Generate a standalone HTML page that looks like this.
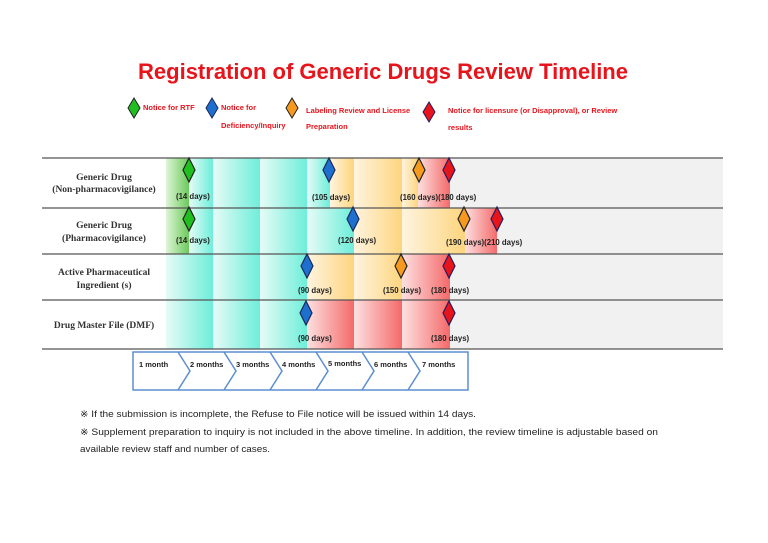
<!DOCTYPE html>
<html><head><meta charset="utf-8"><style>
body{margin:0;background:#fff;}
svg{display:block;font-family:"Liberation Sans",sans-serif;}
</style></head><body>
<svg width="768" height="543" viewBox="0 0 768 543" xmlns="http://www.w3.org/2000/svg">
<defs>
<linearGradient id="g" x1="0" x2="1"><stop offset="0" stop-color="#dff5d8"/><stop offset="1" stop-color="#6cc95a"/></linearGradient>
<linearGradient id="c" x1="0" x2="1"><stop offset="0" stop-color="#e6fbf6"/><stop offset="1" stop-color="#6eeeda"/></linearGradient>
<linearGradient id="o" x1="0" x2="1"><stop offset="0" stop-color="#fff4e0"/><stop offset="1" stop-color="#fdd57e"/></linearGradient>
<linearGradient id="r" x1="0" x2="1"><stop offset="0" stop-color="#fde0e0"/><stop offset="1" stop-color="#f46a6a"/></linearGradient>
</defs>
<text x="383" y="79" text-anchor="middle" font-size="22" font-weight="bold" fill="#e8141c" textLength="490" lengthAdjust="spacingAndGlyphs">Registration of Generic Drugs Review Timeline</text>
<g font-size="7.5" fill="#e8141c" font-weight="bold">
<path d="M134 98 L140 108 L134 118 L128 108Z" fill="#1fbf1f" stroke="#222" stroke-width="1"/>
<text x="143" y="110">Notice for RTF</text>
<path d="M212 98 L218 108 L212 118 L206 108Z" fill="#1f6fcf" stroke="#1a2a5a" stroke-width="1"/>
<text x="221" y="110">Notice for</text><text x="221" y="128">Deficiency/Inquiry</text>
<path d="M292 98 L298 108 L292 118 L286 108Z" fill="#f59a1f" stroke="#222" stroke-width="1"/>
<text x="306" y="113">Labeling Review and License</text><text x="306" y="129">Preparation</text>
<path d="M429 102 L435 112 L429 122 L423 112Z" fill="#e8141c" stroke="#2a1a5a" stroke-width="1"/>
<text x="448" y="113">Notice for licensure (or Disapproval), or Review</text><text x="448" y="130">results</text>
</g>
<rect x="450" y="158" width="273" height="191" fill="#f1f1f1"/>
<rect x="166" y="158" width="23" height="50" fill="url(#g)"/>
<rect x="189" y="158" width="24" height="50" fill="url(#c)"/>
<rect x="213" y="158" width="47" height="50" fill="url(#c)"/>
<rect x="260" y="158" width="47" height="50" fill="url(#c)"/>
<rect x="307" y="158" width="23" height="50" fill="url(#c)"/>
<rect x="330" y="158" width="24" height="50" fill="url(#o)"/>
<rect x="354" y="158" width="48" height="50" fill="url(#o)"/>
<rect x="402" y="158" width="16" height="50" fill="url(#o)"/>
<rect x="418" y="158" width="32" height="50" fill="url(#r)"/>
<rect x="166" y="208" width="23" height="46" fill="url(#g)"/>
<rect x="189" y="208" width="24" height="46" fill="url(#c)"/>
<rect x="213" y="208" width="47" height="46" fill="url(#c)"/>
<rect x="260" y="208" width="47" height="46" fill="url(#c)"/>
<rect x="307" y="208" width="47" height="46" fill="url(#c)"/>
<rect x="354" y="208" width="48" height="46" fill="url(#o)"/>
<rect x="402" y="208" width="63" height="46" fill="url(#o)"/>
<rect x="465" y="208" width="32" height="46" fill="url(#r)"/>
<rect x="166" y="254" width="47" height="46" fill="url(#c)"/>
<rect x="213" y="254" width="47" height="46" fill="url(#c)"/>
<rect x="260" y="254" width="47" height="46" fill="url(#c)"/>
<rect x="307" y="254" width="47" height="46" fill="url(#o)"/>
<rect x="354" y="254" width="48" height="46" fill="url(#o)"/>
<rect x="402" y="254" width="48" height="46" fill="url(#r)"/>
<rect x="166" y="300" width="47" height="49" fill="url(#c)"/>
<rect x="213" y="300" width="47" height="49" fill="url(#c)"/>
<rect x="260" y="300" width="47" height="49" fill="url(#c)"/>
<rect x="307" y="300" width="47" height="49" fill="url(#r)"/>
<rect x="354" y="300" width="48" height="49" fill="url(#r)"/>
<rect x="402" y="300" width="48" height="49" fill="url(#r)"/>
<g stroke="#555" stroke-width="1.3">
<line x1="42" y1="158" x2="723" y2="158"/>
<line x1="42" y1="208" x2="723" y2="208"/>
<line x1="42" y1="254" x2="723" y2="254"/>
<line x1="42" y1="300" x2="723" y2="300"/>
<line x1="42" y1="349" x2="723" y2="349"/>
</g>
<g font-family="Liberation Serif,serif" font-weight="bold" font-size="9.5" fill="#333" text-anchor="middle">
<text x="104" y="180">Generic Drug</text><text x="104" y="192">(Non-pharmacovigilance)</text>
<text x="104" y="228">Generic Drug</text><text x="104" y="241">(Pharmacovigilance)</text>
<text x="104" y="275">Active Pharmaceutical</text><text x="104" y="288">Ingredient (s)</text>
<text x="104" y="328">Drug Master File (DMF)</text>
</g>
<g stroke-width="1.2">
<path d="M189 158 L195 170 L189 182 L183 170Z" fill="#1fbf1f" stroke="#222"/>
<path d="M329 158 L335 170 L329 182 L323 170Z" fill="#1f6fcf" stroke="#1a2a5a"/>
<path d="M419 158 L425 170 L419 182 L413 170Z" fill="#f59a1f" stroke="#222"/>
<path d="M449 158 L455 170 L449 182 L443 170Z" fill="#e8141c" stroke="#2a1a5a"/>
<path d="M189 207 L195 219 L189 231 L183 219Z" fill="#1fbf1f" stroke="#222"/>
<path d="M353 207 L359 219 L353 231 L347 219Z" fill="#1f6fcf" stroke="#1a2a5a"/>
<path d="M464 207 L470 219 L464 231 L458 219Z" fill="#f59a1f" stroke="#222"/>
<path d="M497 207 L503 219 L497 231 L491 219Z" fill="#e8141c" stroke="#2a1a5a"/>
<path d="M307 254 L313 266 L307 278 L301 266Z" fill="#1f6fcf" stroke="#1a2a5a"/>
<path d="M401 254 L407 266 L401 278 L395 266Z" fill="#f59a1f" stroke="#222"/>
<path d="M449 254 L455 266 L449 278 L443 266Z" fill="#e8141c" stroke="#2a1a5a"/>
<path d="M306 301 L312 313 L306 325 L300 313Z" fill="#1f6fcf" stroke="#1a2a5a"/>
<path d="M449 301 L455 313 L449 325 L443 313Z" fill="#e8141c" stroke="#2a1a5a"/>
</g>
<g font-size="7.8" font-weight="bold" fill="#222">
<text x="176" y="199">(14 days)</text>
<text x="312" y="200">(105 days)</text>
<text x="400" y="200">(160 days)(180 days)</text>
<text x="176" y="243">(14 days)</text>
<text x="338" y="243">(120 days)</text>
<text x="446" y="245">(190 days)(210 days)</text>
<text x="298" y="293">(90 days)</text>
<text x="383" y="293">(150 days)</text>
<text x="431" y="293">(180 days)</text>
<text x="298" y="341">(90 days)</text>
<text x="431" y="341">(180 days)</text>
</g>
<rect x="133" y="352" width="335" height="38" fill="#fff" stroke="#5b8fd0" stroke-width="1.5"/>
<g fill="none" stroke="#5b8fd0" stroke-width="1.5">
<path d="M178 352 L190 371 L178 390"/>
<path d="M224 352 L236 371 L224 390"/>
<path d="M270 352 L282 371 L270 390"/>
<path d="M316 352 L328 371 L316 390"/>
<path d="M362 352 L374 371 L362 390"/>
<path d="M408 352 L420 371 L408 390"/>
</g>
<g font-size="7.5" font-weight="bold" fill="#222">
<text x="139" y="367">1 month</text>
<text x="190" y="367">2 months</text>
<text x="236" y="367">3 months</text>
<text x="282" y="367">4 months</text>
<text x="328" y="366">5 months</text>
<text x="374" y="367">6 months</text>
<text x="422" y="367">7 months</text>
</g>
<g font-size="9.5" fill="#222">
<text x="80" y="417" textLength="396" lengthAdjust="spacingAndGlyphs">※  If the submission is incomplete, the Refuse to File notice will be issued within 14 days.</text>
<text x="80" y="435" textLength="578" lengthAdjust="spacingAndGlyphs">※  Supplement preparation to inquiry is not included in the above timeline. In addition, the review timeline is adjustable based on</text>
<text x="80" y="452" textLength="190" lengthAdjust="spacingAndGlyphs">available review staff and number of cases.</text>
</g>
</svg>
</body></html>
